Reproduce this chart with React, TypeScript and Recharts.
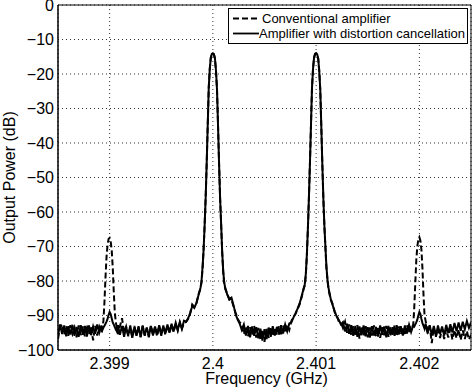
import { LineChart, Line, XAxis, YAxis, CartesianGrid, Legend, ReferenceArea } from 'recharts'

const FONT = '"Liberation Sans", Arial, Helvetica, sans-serif'

// frequency points (GHz), finer around the carriers and IM3 products
const FREQ_GHZ = [
  2.3985, 2.39852, 2.39854, 2.39856, 2.39858, 2.3986, 2.39862, 2.39864, 2.39866, 2.39868, 2.3987,
  2.39872, 2.39874, 2.39876, 2.39878, 2.3988, 2.39882, 2.39884, 2.39886, 2.39888, 2.3989, 2.39892,
  // lower IM3
  2.39893, 2.39894, 2.39895, 2.39896, 2.39897, 2.39898, 2.39899, 2.399, 2.39901, 2.39902, 2.39903,
  2.39904, 2.39905, 2.39906, 2.39907,
  2.39908, 2.3991, 2.39912, 2.39914, 2.39916, 2.39918, 2.3992, 2.39922, 2.39924, 2.39926, 2.39928,
  2.3993, 2.39932, 2.39934, 2.39936, 2.39938, 2.3994, 2.39942, 2.39944, 2.39946, 2.39948, 2.3995,
  2.39952, 2.39954, 2.39956, 2.39958, 2.3996, 2.39962, 2.39964, 2.39966, 2.39968, 2.3997, 2.39972,
  2.39974, 2.39976, 2.39978, 2.3998, 2.39982, 2.39984, 2.39986, 2.39988,
  // carrier 1
  2.39989, 2.3999, 2.39991, 2.39992, 2.39993, 2.39994, 2.39995, 2.39996, 2.39997, 2.39998, 2.39999,
  2.4, 2.40001, 2.40002, 2.40003, 2.40004, 2.40005, 2.40006, 2.40007, 2.40008, 2.40009, 2.4001,
  2.40011,
  2.40012, 2.40014, 2.40016, 2.40018, 2.4002, 2.40022, 2.40024, 2.40026, 2.40028, 2.4003, 2.40032,
  2.40034, 2.40036, 2.40038, 2.4004, 2.40042, 2.40044, 2.40046, 2.40048, 2.4005, 2.40052, 2.40054,
  2.40056, 2.40058, 2.4006, 2.40062, 2.40064, 2.40066, 2.40068, 2.4007, 2.40072, 2.40074, 2.40076,
  2.40078, 2.4008, 2.40082, 2.40084, 2.40086, 2.40088,
  // carrier 2
  2.40089, 2.4009, 2.40091, 2.40092, 2.40093, 2.40094, 2.40095, 2.40096, 2.40097, 2.40098, 2.40099,
  2.401, 2.40101, 2.40102, 2.40103, 2.40104, 2.40105, 2.40106, 2.40107, 2.40108, 2.40109, 2.4011,
  2.40111,
  2.40112, 2.40114, 2.40116, 2.40118, 2.4012, 2.40122, 2.40124, 2.40126, 2.40128, 2.4013, 2.40132,
  2.40134, 2.40136, 2.40138, 2.4014, 2.40142, 2.40144, 2.40146, 2.40148, 2.4015, 2.40152, 2.40154,
  2.40156, 2.40158, 2.4016, 2.40162, 2.40164, 2.40166, 2.40168, 2.4017, 2.40172, 2.40174, 2.40176,
  2.40178, 2.4018, 2.40182, 2.40184, 2.40186, 2.40188, 2.4019, 2.40192, 2.40194,
  // upper IM3
  2.40195, 2.40196, 2.40197, 2.40198, 2.40199, 2.402, 2.40201, 2.40202, 2.40203, 2.40204, 2.40205,
  2.40206, 2.40208, 2.4021, 2.40212, 2.40214, 2.40216, 2.40218, 2.4022, 2.40222, 2.40224, 2.40226,
  2.40228, 2.4023, 2.40232, 2.40234, 2.40236, 2.40238, 2.4024, 2.40242, 2.40244, 2.40246, 2.40248,
  2.4025,
]

// dashed trace (dB)
const CONVENTIONAL_DB = [
  -96.8, -93.4, -92.5, -95.6, -93.0, -95.9, -92.8, -95.3, -93.5, -96.3, -92.9,
  -95.7, -93.2, -96.0, -92.7, -95.4, -93.1, -97.2, -93.0, -95.8, -93.3, -95.1,
  -93.5, -91.5, -86.0, -79.0, -73.0, -69.5, -67.8, -67.5, -68.5, -71.0, -76.0,
  -83.0, -89.0, -92.0, -93.5,
  -95.4, -93.1, -90.8, -95.0, -93.2, -96.0, -93.6, -96.5, -93.0, -95.7, -93.4,
  -96.2, -93.1, -95.9, -93.6, -96.3, -92.9, -95.6, -93.3, -96.0, -93.0, -95.4,
  -93.2, -95.6, -92.7, -95.1, -92.5, -94.8, -92.3, -94.4, -92.0, -93.8, -92.2,
  -91.9, -91.0, -89.3, -86.8, -87.5, -86.6, -84.0, -82.2,
  -80.4, -76.5, -71.0, -64.0, -56.0, -46.0, -35.0, -24.0, -18.5, -15.3, -14.2,
  -14.0, -14.3, -15.5, -19.0, -24.5, -35.0, -46.0, -56.0, -63.5, -71.5, -77.4,
  -80.8,
  -82.3, -83.8, -85.5, -85.4, -87.4, -89.2, -90.9, -92.0, -92.4, -95.4, -93.1,
  -96.0, -93.4, -95.7, -93.0, -96.4, -93.6, -96.9, -94.2, -97.6, -93.9, -96.5,
  -93.3, -96.0, -93.5, -95.6, -93.0, -95.9, -92.9, -95.0, -92.7, -94.2, -91.6,
  -90.4, -89.6, -88.2, -86.8, -84.6, -82.2,
  -81.3, -78.4, -73.0, -65.0, -56.0, -46.0, -35.0, -24.0, -18.5, -15.2, -14.2,
  -14.0, -14.3, -15.5, -19.0, -24.5, -35.0, -46.0, -56.0, -64.0, -70.4, -76.3,
  -79.8,
  -82.4, -85.3, -86.7, -89.1, -90.0, -91.8, -92.0, -93.6, -91.8, -95.0, -92.6,
  -95.6, -93.0, -96.0, -92.8, -96.7, -93.3, -95.9, -93.1, -96.3, -93.5, -95.8,
  -92.9, -96.1, -93.2, -96.5, -93.4, -95.7, -93.0, -96.2, -93.3, -95.6, -92.9,
  -96.0, -93.1, -95.5, -93.3, -95.8, -92.8, -95.1, -92.6, -93.0,
  -88.0, -81.0, -74.0, -70.0, -68.0, -67.3, -68.3, -71.0, -76.5, -84.0, -90.0,
  -91.5, -94.6, -93.0, -98.0, -93.4, -96.2, -93.6, -96.5, -93.8, -96.8, -94.0,
  -96.4, -93.9, -97.0, -94.2, -96.6, -94.0, -97.1, -94.3, -96.8, -94.5, -97.0,
  -95.6,
]

// solid trace (dB)
const CANCELLED_DB = [
  -95.8, -92.6, -95.4, -92.9, -96.0, -93.1, -95.5, -92.7, -95.9, -93.3, -96.2,
  -92.8, -95.6, -93.0, -96.1, -92.9, -95.7, -93.2, -95.3, -92.6, -95.0, -92.9,
  -94.2, -93.5, -93.0, -92.4, -91.8, -91.0, -89.8, -89.0, -89.6, -90.8, -92.0,
  -92.6, -93.4, -94.1, -94.6,
  -92.8, -95.6, -93.0, -96.2, -93.3, -95.8, -92.9, -96.4, -93.4, -95.9, -93.1,
  -96.3, -92.9, -95.7, -93.5, -96.1, -93.0, -95.8, -93.2, -95.5, -92.8, -95.9,
  -92.9, -95.2, -92.6, -95.0, -92.4, -94.6, -92.1, -94.2, -91.9, -93.9, -91.5,
  -91.8, -90.8, -89.5, -87.2, -87.8, -86.4, -84.2, -82.0,
  -80.0, -76.0, -71.0, -64.0, -56.0, -46.0, -35.0, -24.0, -18.5, -15.3, -14.2,
  -14.0, -14.3, -15.5, -19.0, -24.5, -35.0, -46.0, -56.0, -63.5, -71.5, -77.0,
  -80.5,
  -82.0, -84.0, -85.2, -84.8, -87.0, -89.6, -91.2, -92.4, -94.2, -92.6, -95.8,
  -93.0, -96.3, -93.2, -95.9, -93.4, -96.6, -93.8, -97.3, -94.0, -96.8, -93.5,
  -96.2, -93.1, -95.8, -93.3, -95.5, -92.8, -95.2, -92.6, -94.6, -92.3, -92.0,
  -90.6, -89.4, -88.0, -86.5, -84.4, -82.0,
  -81.0, -78.0, -72.5, -65.0, -56.0, -46.0, -35.0, -24.0, -18.5, -15.2, -14.2,
  -14.0, -14.3, -15.5, -19.0, -24.5, -35.0, -46.0, -56.0, -64.0, -70.0, -76.0,
  -79.5,
  -82.0, -85.0, -87.0, -88.8, -90.4, -91.3, -92.6, -91.9, -94.6, -92.4, -95.3,
  -92.8, -95.9, -93.0, -96.2, -93.2, -95.7, -92.9, -96.0, -93.4, -96.4, -93.1,
  -95.8, -93.3, -96.1, -92.9, -95.6, -93.2, -96.3, -93.0, -95.7, -93.4, -95.9,
  -92.8, -95.5, -93.1, -95.8, -92.9, -95.2, -92.7, -94.8, -92.9,
  -93.2, -92.6, -92.0, -91.2, -90.0, -89.0, -89.6, -91.0, -92.2, -93.0, -93.8,
  -92.4, -95.2, -92.8, -95.6, -93.0, -96.0, -92.9, -95.4, -93.2, -95.8, -92.7,
  -95.1, -92.5, -94.9, -92.2, -94.6, -92.0, -94.4, -91.8, -94.0, -91.6, -93.6,
  -92.0,
]

const X_TICKS = [2.399, 2.4, 2.401, 2.402]
const Y_TICKS = [0, -10, -20, -30, -40, -50, -60, -70, -80, -90, -100]

const SERIES = [
  { key: 'conv', name: 'Conventional amplifier', dash: '6 3' },
  { key: 'canc', name: 'Amplifier with distortion cancellation', dash: undefined },
]

const rows = FREQ_GHZ.map((f, i) => ({ f, conv: CONVENTIONAL_DB[i], canc: CANCELLED_DB[i] }))

const minus = (v: number) => String(v).replace('-', '\u2212')

function LegendBox() {
  return (
    <div
      style={{
        border: '1px solid #000',
        background: '#fff',
        padding: '2px 2px',
        fontFamily: FONT,
        fontSize: 13,
        lineHeight: '15px',
        color: '#000',
      }}
    >
      {SERIES.map((s) => (
        <div key={s.key} style={{ display: 'flex', alignItems: 'center', whiteSpace: 'nowrap' }}>
          <svg width={31} height={15} style={{ display: 'block' }}>
            <line x1={2} x2={29} y1={7.5} y2={7.5} stroke="#000" strokeWidth={1.8} strokeDasharray={s.dash} />
          </svg>
          <span>{s.name}</span>
        </div>
      ))}
    </div>
  )
}

export default function App() {
  return (
    <div style={{ position: 'absolute', left: 0, top: 0, background: '#fff' }}>
      <LineChart width={474} height={387} data={rows} margin={{ top: 5, right: 3, left: 0, bottom: 0 }}>
        <CartesianGrid stroke="#333" strokeDasharray="1 3" />
        <XAxis
          dataKey="f"
          type="number"
          domain={[2.3985, 2.4025]}
          ticks={X_TICKS}
          interval={0}
          allowDataOverflow
          tickFormatter={(v) => String(v)}
          height={37}
          tickLine={false}
          axisLine={{ stroke: '#000' }}
          tick={{ fontSize: 16, fill: '#000', fontFamily: FONT }}
          label={({ viewBox }: any) => (
            <text
              x={viewBox.x + viewBox.width / 2 + 2}
              y={viewBox.y + 33.5}
              textAnchor="middle"
              fontSize={16}
              fontFamily={FONT}
              fill="#000"
            >
              Frequency (GHz)
            </text>
          )}
        />
        <YAxis
          type="number"
          domain={[-100, 0]}
          ticks={Y_TICKS}
          interval={0}
          width={58}
          tickSize={2}
          tickMargin={2}
          tickLine={false}
          tickFormatter={minus}
          axisLine={{ stroke: '#000' }}
          tick={{ fontSize: 16, fill: '#000', fontFamily: FONT }}
          label={({ viewBox }: any) => (
            <text
              x={15}
              y={viewBox.y + viewBox.height / 2}
              transform={`rotate(-90 15 ${viewBox.y + viewBox.height / 2})`}
              textAnchor="middle"
              fontSize={16}
              fontFamily={FONT}
              fill="#000"
            >
              Output Power (dB)
            </text>
          )}
        />
        <ReferenceArea x1={2.3985} x2={2.4025} y1={-100} y2={0} fill="none" stroke="#000" strokeWidth={1} />
        <Line
          dataKey="conv"
          name="Conventional amplifier"
          type="linear"
          stroke="#000"
          strokeWidth={2}
          strokeDasharray="6 3"
          dot={false}
          isAnimationActive={false}
        />
        <Line
          dataKey="canc"
          name="Amplifier with distortion cancellation"
          type="linear"
          stroke="#000"
          strokeWidth={2}
          dot={false}
          isAnimationActive={false}
        />
        <Legend
          layout="vertical"
          align="center"
          verticalAlign="middle"
          content={() => <LegendBox />}
          wrapperStyle={{ top: 8, left: 228, width: 240 }}
        />
      </LineChart>
    </div>
  )
}
